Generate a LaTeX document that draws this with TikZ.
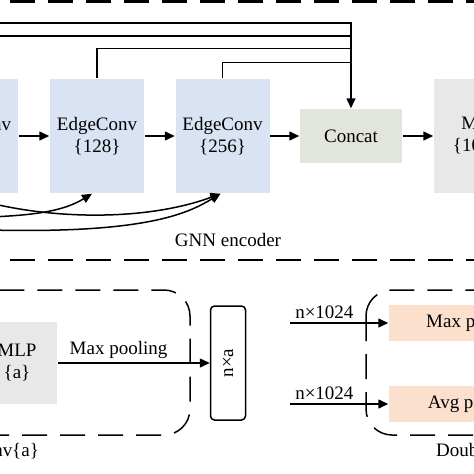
\documentclass[tikz,border=0pt]{standalone}
\usepackage{fontspec}
\setmainfont{Liberation Serif}
\usetikzlibrary{arrows.meta}

\definecolor{convblue}{HTML}{DAE3F3}
\definecolor{catgreen}{HTML}{E2E5DB}
\definecolor{mlpgray}{HTML}{E8E8E8}
\definecolor{poolpeach}{HTML}{FBE0CE}

\tikzset{
  lbl/.style={font=\fontsize{19}{22}\selectfont, align=center},
  block/.style={lbl, inner sep=0pt},
  conv/.style={block, fill=convblue, minimum width=94pt, minimum height=114pt},
  pool/.style={block, fill=poolpeach, minimum width=172pt, minimum height=36pt},
  sep/.style={line width=2pt, dash pattern=on 25pt off 13pt},
  group/.style={line width=1.5pt, dash pattern=on 25pt off 13pt, rounded corners=26pt}
}

\begin{document}
\begin{tikzpicture}[x=1pt,y=-1pt,>={Triangle[length=10pt,width=9pt]},line width=1.5pt]
  \useasboundingbox (0,0) rectangle (474,474);

  % GNN encoder
  \draw[sep,line width=5.5pt] (-28,0) -- (520,0);
  \node[conv] (conv64) at (-29,136) {EdgeConv\\\phantom{\{64\}}};
  \node[conv] (conv128) at (97,136) {EdgeConv\\\{128\}};
  \node[conv] (conv256) at (222.5,136) {EdgeConv\\\{256\}};
  \node[block,fill=catgreen,minimum width=102pt,minimum height=54pt] (concat) at (351,136) {Concat};
  \node[block,fill=mlpgray,minimum width=94pt,minimum height=114pt] (mlp1024) at (481,136) {MLP\\\{1024\}};
  \draw[->] (conv64) -- (conv128);
  \draw[->] (conv128) -- (conv256);
  \draw[->] (conv256) -- (concat);
  \draw[->] (concat) -- (mlp1024);

  % skip connections into Concat
  \coordinate (in1) at (-20,23);
  \coordinate (in2) at (-20,36);
  \coordinate (join) at (concat.north |- in1);
  \draw (in2) -| (join);
  \draw (conv128.north) -- ++(0,-30) -| (join);
  \draw (conv256.north) -- ++(0,-16) -| (join);
  \draw[->] (in1) -- (join) -- (concat.north);

  % inputs from below
  \coordinate (in3) at (-10,203);
  \coordinate (in4) at (-10,217);
  \coordinate (in5) at (-10,230);
  \draw[->] (in4) .. controls (40,215) and (65,210) .. ([xshift=-5pt]conv128.south);
  \draw[->] (in3) .. controls (60,220) and (150,220) .. ([xshift=-2pt]conv256.south);
  \draw[->] (in5) .. controls (150,234) and (190,212) .. ([xshift=-2pt]conv256.south);
  \node[lbl] (gnnlbl) at (228,240) {GNN encoder};

  \draw[sep] (-28,260) -- (520,260);

  % EdgeConv{a}
  \draw[group] (-60,290) rectangle (190,435);
  \node[block,fill=mlpgray,minimum width=80pt,minimum height=82pt] (mlpa) at (17,363) {MLP\\\{a\}};
  \node[block,draw,fill=white,rounded corners=4pt,minimum width=114pt,minimum height=35pt,rotate=90] (nxa) at (228,363) {n×a};
  \draw[->] (mlpa) -- node[lbl,above,pos=0.4] {Max pooling} (nxa);
  \node[lbl,anchor=east] (convalbl) at (43,452) {EdgeConv\{a\}};

  % double pooling
  \coordinate (in6) at (290,323);
  \coordinate (in7) at (290,404);
  \draw[group] (366,290) rectangle (560,435);
  \node[pool] (maxpool) at (475,323) {Max pooling};
  \node[pool] (avgpool) at (475,404) {Avg pooling};
  \draw[->] (in6) -- node[lbl,above,pos=0.35] {n×1024} (maxpool);
  \draw[->] (in7) -- node[lbl,above,pos=0.35] {n×1024} (avgpool);
  \node[lbl,anchor=west] (poollbl) at (432,452) {Double pooling};
\end{tikzpicture}
\end{document}
